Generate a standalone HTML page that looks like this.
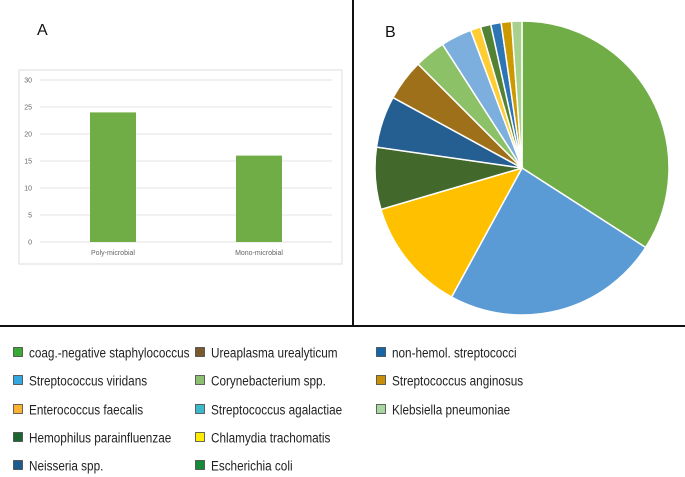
<!DOCTYPE html>
<html><head><meta charset="utf-8"><style>
body{margin:0;background:#fff;}
svg{display:block;font-family:"Liberation Sans",sans-serif;}
</style></head><body>
<svg id="s" width="685" height="477" viewBox="0 0 685 477">
<line x1="353" y1="0" x2="353" y2="326" stroke="#111" stroke-width="2"/>
<line x1="0" y1="326" x2="685" y2="326" stroke="#111" stroke-width="2"/>
<text x="37" y="35" font-size="16" fill="#111">A</text>
<text x="385" y="37" font-size="16" fill="#111">B</text>
<rect x="19" y="70" width="323" height="194" fill="#fff" stroke="#ddd"/>
<g id="bars"></g>
<g id="pie"></g>
<g id="legend"></g>
</svg>
<script>
const barCats=["Poly-microbial","Mono-microbial"];
const barVals=[24,16];
const yTicks=[0,5,10,15,20,25,30];
const pieLabels=["coag.-negative staphylococcus","Streptococcus viridans","Enterococcus faecalis","Hemophilus parainfluenzae","Neisseria spp.","Ureaplasma urealyticum","Corynebacterium spp.","Streptococcus agalactiae","Chlamydia trachomatis","Escherichia coli","non-hemol. streptococci","Streptococcus anginosus","Klebsiella pneumoniae"];
const pieVals=[30,21,11,6,5,4,3,3,1,1,1,1,1];
const NS="http://www.w3.org/2000/svg";
function mk(t,a,p){const e=document.createElementNS(NS,t);for(const k in a)e.setAttribute(k,a[k]);p.appendChild(e);return e;}
// bar chart
const bg=document.getElementById('bars');
const y=v=>242-v*5.4;
const x0=40,x1=332,bw=(x1-x0)/barCats.length;
yTicks.forEach(t=>{
 const l=mk('line',{x1:x0,x2:x1,y1:y(t),y2:y(t),stroke:'#e3e3e3'},bg);
 
 
 const tx=mk('text',{x:32,y:y(t)+2.5,'font-size':7,fill:'#666','text-anchor':'end'},bg);
 tx.textContent=t;
 
 
});
barCats.forEach((c,i)=>{
 const cx=x0+bw*(i+0.5);
 const r=mk('rect',{x:cx-23,y:y(barVals[i]),width:46,height:y(0)-y(barVals[i]),fill:'#70AD47'},bg);
 
 
 const tx=mk('text',{x:cx,y:255,'font-size':7,fill:'#666','text-anchor':'middle'},bg);
 tx.textContent=c;
 
 
});
// pie
const pieCols=["#70AD47","#5B9BD5","#FFC000","#43682B","#255E91","#9E7019","#8CC168","#7CAFDD","#FFCD33","#548235","#2E75B6","#CC9A00","#A9D18E"];
const legCols=["#3BA935","#35A8E0","#F9B233","#1D6530","#1D5B8E","#7A5A2C","#8CC070","#3DB8C8","#FFEC00","#168A3A","#1565A8","#C8900A","#A8D5A2"];
const pg=document.getElementById('pie');
const cx=522,cy=168,R=147;
const tot=pieVals.reduce((a,b)=>a+b,0);
let a=0;
pieVals.forEach((v,i)=>{
 const a2=a+v/tot*2*Math.PI;
 const p=(t)=>[cx+R*Math.sin(t),cy-R*Math.cos(t)];
 const [sx,sy]=p(a),[ex,ey]=p(a2);
 const d=`M${cx},${cy}L${sx},${sy}A${R},${R} 0 ${a2-a>Math.PI?1:0} 1 ${ex},${ey}Z`;
 const s=mk('path',{d:d,fill:pieCols[i],stroke:'#fff','stroke-width':1.5},pg);
 
 
 a=a2;
});
// legend
const lg=document.getElementById('legend');
const colX=[13,195,376],rowY=[353,381,410,438,466];
const order=[[0,1,2,3,4],[5,6,7,8,9],[10,11,12]];
order.forEach((col,ci)=>col.forEach((idx,ri)=>{
 const g=mk('g',{},lg);
 
 
 mk('rect',{x:colX[ci]+0.5,y:rowY[ri]-5.5,width:9,height:9,fill:legCols[idx],stroke:'#444','stroke-width':0.8},g);
 const t=mk('text',{x:colX[ci]+16,y:rowY[ri]+4.5,'font-size':14,fill:'#222',transform:`translate(${colX[ci]+16},0) scale(0.84,1) translate(${-(colX[ci]+16)},0)`},g);
 t.textContent=pieLabels[idx];
}));
</script>
</body></html>
